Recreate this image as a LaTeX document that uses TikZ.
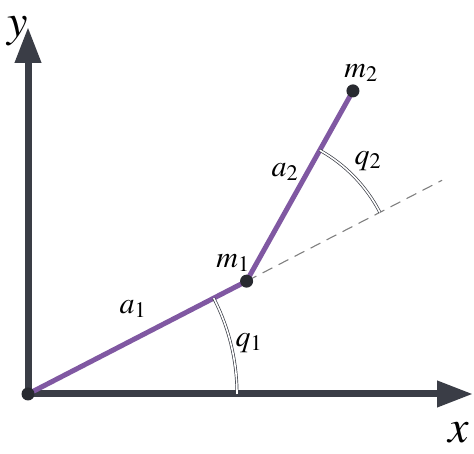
\documentclass[tikz,border=0pt]{standalone}
\usepackage{mathptmx}
\usetikzlibrary{arrows.meta,calc}
\definecolor{axisgray}{RGB}{58,61,70}
\definecolor{linkpurple}{RGB}{128,88,162}
\definecolor{dotgray}{RGB}{40,42,48}
\tikzset{
  axis/.style={line width=7pt, axisgray, -{Triangle[length=36pt,width=25pt]}},
  link/.style={line width=5pt, linkpurple},
  angarc/.style={line width=0.7pt, draw=axisgray, double=white, double distance=1.6pt},
  joint/.style={fill=dotgray},
  lab/.style={font=\fontsize{30}{33}\selectfont},
  axlab/.style={font=\fontsize{46}{50}\selectfont, inner sep=1pt}
}
\begin{document}
\begin{tikzpicture}[x=1pt, y=1pt]
    \useasboundingbox (0,0) rectangle (474,454);
    % base point and the two joints
    \coordinate (O) at (28,60);
    \coordinate (M1) at ($(O)+(27.3:246)$);
    \coordinate (M2) at ($(M1)+(60.8:218)$);
    \coordinate (E) at ($(M1)+(27.3:220)$);
    \coordinate (X) at (473,60);
    \coordinate (Y) at (28,427);
    % axes
    \draw[axis](O)--(X);
    \draw[axis](O)--(Y);
    \node[axlab] (xl) at (459,21){$x$};
    \node[axlab] (yl) at (18,423){$y$};
    % extension of the first link
    \draw[dashed, gray, line width=1.1pt, dash pattern=on 11pt off 7pt](M1)--(E);
    % links
    \draw[link](O)--(M1);
    \draw[link](M1)--(M2);
    % angles
    \draw[angarc]($(O)+(0:209)$) arc(0:27.3:209);
    \draw[angarc]($(M1)+(27.3:150)$) arc(27.3:60.8:150);
    % joints
    \fill[joint](O) circle(6.5pt);
    \fill[joint](M1) circle(6.5pt);
    \fill[joint](M2) circle(6.5pt);
    % labels
    \node[lab] (a1) at (133,145){$a_1$};
    \node[lab] (a2) at (285,282){$a_2$};
    \node[lab] (q1) at (249,111){$q_1$};
    \node[lab] (q2) at (368,293){$q_2$};
    \node[lab] (m1) at (233,191){$m_1$};
    \node[lab] (m2) at (361,381){$m_2$};
\end{tikzpicture}
\end{document}
